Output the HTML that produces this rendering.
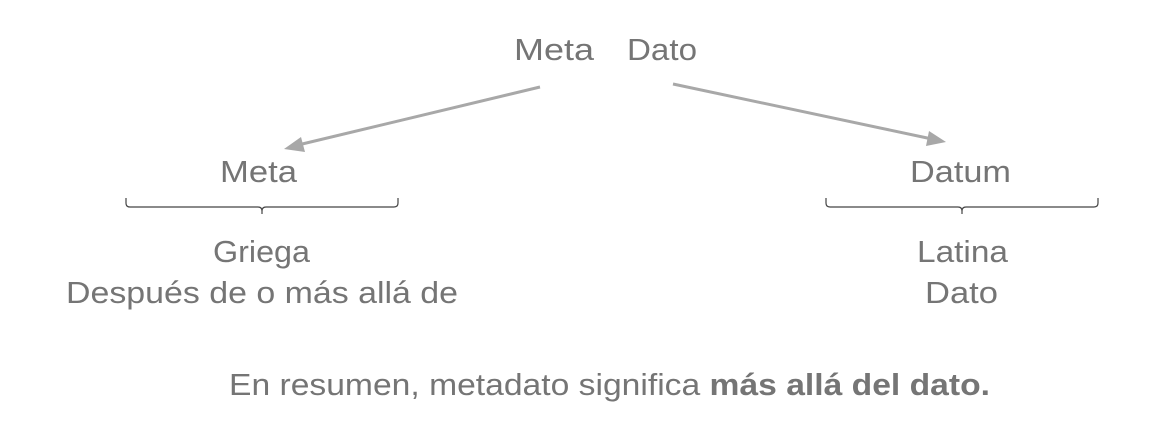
<!DOCTYPE html>
<html><head><meta charset="utf-8"><style>
html,body{margin:0;padding:0;background:#fff;}
svg{display:block;}
text{font-family:"Liberation Sans",sans-serif;font-size:31px;fill:#757575;}
</style></head><body>
<svg width="1174" height="432" viewBox="0 0 1174 432" xmlns="http://www.w3.org/2000/svg">
<text x="514" y="60" textLength="80" lengthAdjust="spacingAndGlyphs">Meta</text>
<text x="627" y="60" textLength="70" lengthAdjust="spacingAndGlyphs">Dato</text>
<line x1="540" y1="87" x2="298" y2="145" stroke="#a8a8a8" stroke-width="3"/>
<path d="M284,149 L301,137 L305,152 z" fill="#a8a8a8"/>
<line x1="673" y1="84" x2="932" y2="139" stroke="#a8a8a8" stroke-width="3"/>
<path d="M946,142 L929,131 L926,146 z" fill="#a8a8a8"/>
<text x="220" y="182" textLength="77" lengthAdjust="spacingAndGlyphs">Meta</text>
<text x="910" y="182" textLength="101" lengthAdjust="spacingAndGlyphs">Datum</text>
<path d="M126,198 v5 q0,4 4,4 h128 q4,0 4,4 v3 M262,211 q0,-4 4,-4 h128 q4,0 4,-4 v-5" fill="none" stroke="#444" stroke-width="1.2"/>
<path d="M826,198 v5 q0,4 4,4 h128 q4,0 4,4 v3 M962,211 q0,-4 4,-4 h128 q4,0 4,-4 v-5" fill="none" stroke="#444" stroke-width="1.2"/>
<text x="213" y="262" textLength="97" lengthAdjust="spacingAndGlyphs">Griega</text>
<text x="66" y="303" textLength="392" lengthAdjust="spacingAndGlyphs">Después de o más allá de</text>
<text x="917" y="262" textLength="91" lengthAdjust="spacingAndGlyphs">Latina</text>
<text x="925" y="303" textLength="73" lengthAdjust="spacingAndGlyphs">Dato</text>
<text x="229" y="395" textLength="761" lengthAdjust="spacingAndGlyphs">En resumen, metadato significa <tspan font-weight="bold">más allá del dato.</tspan></text>
</svg>
</body></html>
